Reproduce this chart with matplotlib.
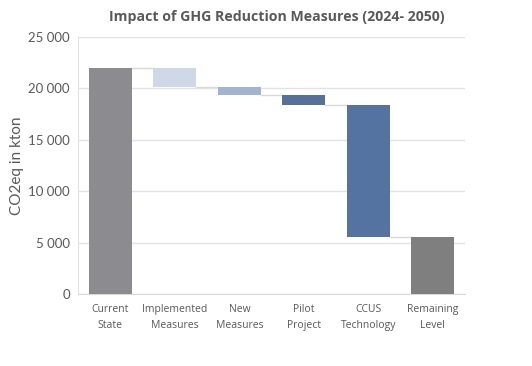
import matplotlib.pyplot as plt
from matplotlib.ticker import FuncFormatter

# Waterfall data (kton CO2eq)
categories = ['Current\nState', 'Implemented\nMeasures', 'New\nMeasures',
              'Pilot\nProject', 'CCUS\nTechnology', 'Remaining\nLevel']
start_value = 22000
reductions = [1900, 700, 1000, 12900]
colors = ['#8c8b90', '#cfd8e6', '#a2b3cf', '#56709c', '#5473a0', '#7f7f7f']

# build bottoms and heights
bottoms = [0]
heights = [start_value]
level = start_value
for r in reductions:
    level -= r
    bottoms.append(level)
    heights.append(r)
bottoms.append(0)
heights.append(level)

fig = plt.figure(figsize=(5.32, 3.66), dpi=100)
ax = fig.add_axes([0.147, 0.197, 0.727, 0.702])

x = range(len(categories))
ax.bar(x, heights, bottom=bottoms, width=0.67, color=colors, zorder=3)

# connector lines between bars
for i in range(len(categories) - 1):
    y = heights[0] if i == 0 else bottoms[i]
    ax.plot([i + 0.335, i + 1 - 0.335], [y, y], color='#d9d9d9', lw=1, zorder=2)

ax.set_xlim(-0.5, 5.5)
ax.set_ylim(0, 25000)
ax.set_yticks(range(0, 25001, 5000))
ax.yaxis.set_major_formatter(FuncFormatter(lambda v, p: f'{int(v):,}'.replace(',', ' ')))
ax.grid(axis='y', color='#e3e3e3', lw=1, zorder=0)

for s in ['top', 'right']:
    ax.spines[s].set_visible(False)
ax.spines['left'].set_color('#e3e3e3')
ax.spines['bottom'].set_color('#d9d9d9')
ax.tick_params(length=0, colors='#595959')
ax.tick_params(axis='y', labelsize=9.5, pad=6)

ax.set_xticks(list(x))
ax.set_xticklabels(categories, fontsize=7.5, color='#595959', family='Open Sans', linespacing=1.7)
ax.tick_params(axis='x', pad=7)
for lab in ax.get_yticklabels():
    lab.set_family('Lato')

ax.set_ylabel('CO2eq in kton', fontsize=11, color='#595959', family='Lato', labelpad=3)
fig.text(0.52, 0.953, 'Impact of GHG Reduction Measures (2024- 2050)', ha='center', va='center',
         fontsize=10.2, fontweight='bold', color='#595959', family='Open Sans')

plt.savefig('out.png', dpi=100)
